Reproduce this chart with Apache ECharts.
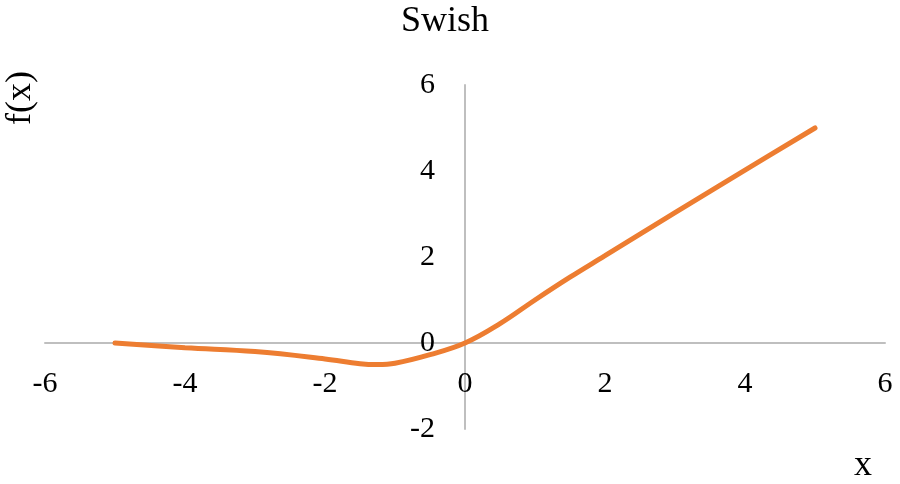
<!DOCTYPE html>
<html>
<head>
<meta charset="utf-8">
<script src="https://cdn.jsdelivr.net/npm/echarts@6/dist/echarts.min.js"></script>
<style>
  html, body { margin: 0; padding: 0; background: #fff; }
  #echart { width: 900px; height: 484px; }
</style>
</head>
<body>
<div id="echart"></div>
<script>
// values
var xValues = [-5, -4, -3, -2, -1.5, -1.25, -1, -0.5, 0, 0.5, 1, 1.5, 2, 3, 4, 5];
var yValues = [0, -0.11, -0.2, -0.37, -0.48, -0.5, -0.47, -0.27, 0, 0.45, 1.0, 1.53, 2.03, 3.03, 4.02, 5.0];
var xTicks = [-6, -4, -2, 0, 2, 4, 6];
var yTicks = [-2, 0, 2, 4, 6];

var serif = '"Liberation Serif", "DejaVu Serif", serif';

var points = [];
for (var i = 0; i < xValues.length; i++) {
  points.push([xValues[i], yValues[i]]);
}

// plot box: x -6..6 -> 45..885, y -2..6 -> 429..85
var gLeft = 45, gRight = 15, gTop = 85, gBottom = 55;
var zeroX = 465, zeroY = 343;

var myChart = echarts.init(document.getElementById('echart'));

var option = {
  animation: false,
  title: {
    text: 'Swish',
    left: 396,
    top: -1,
    textStyle: { fontFamily: serif, fontWeight: 'normal', fontSize: 36, color: '#000' }
  },
  grid: { left: gLeft, right: gRight, top: gTop, bottom: gBottom, containLabel: false },
  xAxis: {
    type: 'value',
    min: xTicks[0],
    max: xTicks[xTicks.length - 1],
    interval: 2,
    position: 'bottom',
    // move the whole axis (line + labels) up onto y = 0
    offset: -((484 - gBottom) - zeroY),
    axisLine: { show: true, onZero: false, lineStyle: { color: '#bfbfbf', width: 2 } },
    axisTick: { show: false },
    splitLine: { show: false },
    axisLabel: {
      margin: 26,
      fontFamily: serif, fontSize: 30, color: '#000',
      showMinLabel: true, showMaxLabel: true
    }
  },
  yAxis: {
    type: 'value',
    min: yTicks[0],
    max: yTicks[yTicks.length - 1],
    interval: 2,
    position: 'left',
    offset: -(zeroX - gLeft),
    axisLine: { show: true, onZero: false, lineStyle: { color: '#bfbfbf', width: 2 } },
    axisTick: { show: false },
    splitLine: { show: false },
    axisLabel: {
      margin: 30,
      fontFamily: serif, fontSize: 30, color: '#000',
      showMinLabel: true, showMaxLabel: true
    }
  },
  graphic: [
    {
      type: 'text',
      x: 21,
      y: 98,
      rotation: Math.PI / 2,
      style: { text: 'f(x)', font: '36px ' + serif, fill: '#000', align: 'center', verticalAlign: 'middle' }
    },
    {
      type: 'text',
      x: 863,
      y: 466,
      style: { text: 'x', font: '36px ' + serif, fill: '#000', align: 'center', verticalAlign: 'middle' }
    }
  ],
  series: [{
    type: 'line',
    data: points,
    smooth: 0.4,
    showSymbol: false,
    lineStyle: { color: '#ED7D31', width: 5, cap: 'round' }
  }]
};

myChart.setOption(option);
</script>
</body>
</html>
